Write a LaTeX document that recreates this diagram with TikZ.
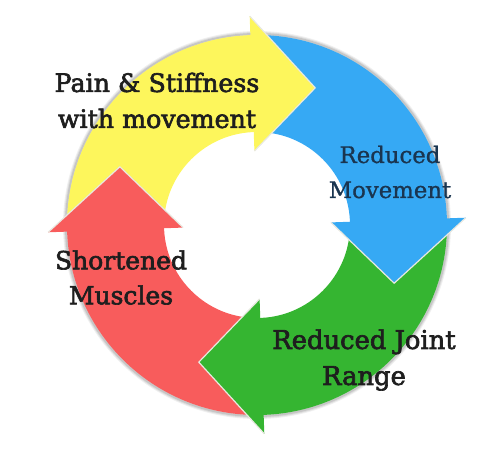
\documentclass[tikz,border=0pt]{standalone}
\usepackage{fontspec}
\setmainfont{DejaVu Serif}
\newfontfamily\heavyfont[FakeBold=2.5]{DejaVu Serif}
\newfontfamily\lightfont[FakeBold=1.0]{DejaVu Serif}
\definecolor{cyel}{HTML}{FDF65C}
\definecolor{cblu}{HTML}{36A9F4}
\definecolor{cgrn}{HTML}{35B531}
\definecolor{cred}{HTML}{F85C5C}
\definecolor{ctxt}{HTML}{1E1E1E}
\definecolor{cnavy}{HTML}{1A3550}
\definecolor{cedge}{HTML}{E8E8E0}
\newcommand\armbody[2]{%
  \begin{scope}[rotate=#1]
    \fill[#2] (180:190) arc[start angle=180,end angle=90,radius=190]
      -- (90:93) arc[start angle=90,end angle=180,radius=93] -- cycle;
  \end{scope}}
\newcommand\armhead[2]{%
  \begin{scope}[rotate=#1]
    \fill[#2] (92:209) -- (67:149) -- (92:74) -- cycle;
    \draw[headedge] (92:209) -- (67:149) -- (92:74);
  \end{scope}}
\begin{document}
\begin{tikzpicture}[x=1bp,y=1bp,
  headedge/.style={cedge,line width=1.2bp,line join=miter},
  lbl/.style={align=center,text=ctxt,inner sep=0pt}]
\useasboundingbox (-257,-232) rectangle (230,225);
% soft shadow of the ring
\foreach \w/\o in {6/0.06,4/0.08,2/0.10}{
  \draw[black,opacity=\o,line width=\w bp] (0,0) circle[radius=191];
}
% bodies
\armbody{0}{cyel}
\armbody{-90}{cblu}
\armbody{-180}{cgrn}
\armbody{-270}{cred}
% heads
\armhead{0}{cyel}
\armhead{-90}{cblu}
\armhead{-180}{cgrn}
\armhead{-270}{cred}
% labels
\node[lbl,font=\heavyfont\fontsize{25.3bp}{36bp}\selectfont] (pain) at (-100,124.5) {Pain \& Stiffness\\with movement};
\node[lbl,text=cnavy,font=\lightfont\fontsize{22.8bp}{35bp}\selectfont] (redmov) at (133,53) {Reduced\\Movement};
\node[lbl,font=\heavyfont\fontsize{25bp}{35bp}\selectfont] (short) at (-136,-52.5) {Shortened\\Muscles};
\node[lbl,font=\heavyfont\fontsize{25.8bp}{36bp}\selectfont] (joint) at (107,-135) {Reduced Joint\\Range};
\end{tikzpicture}
\end{document}
